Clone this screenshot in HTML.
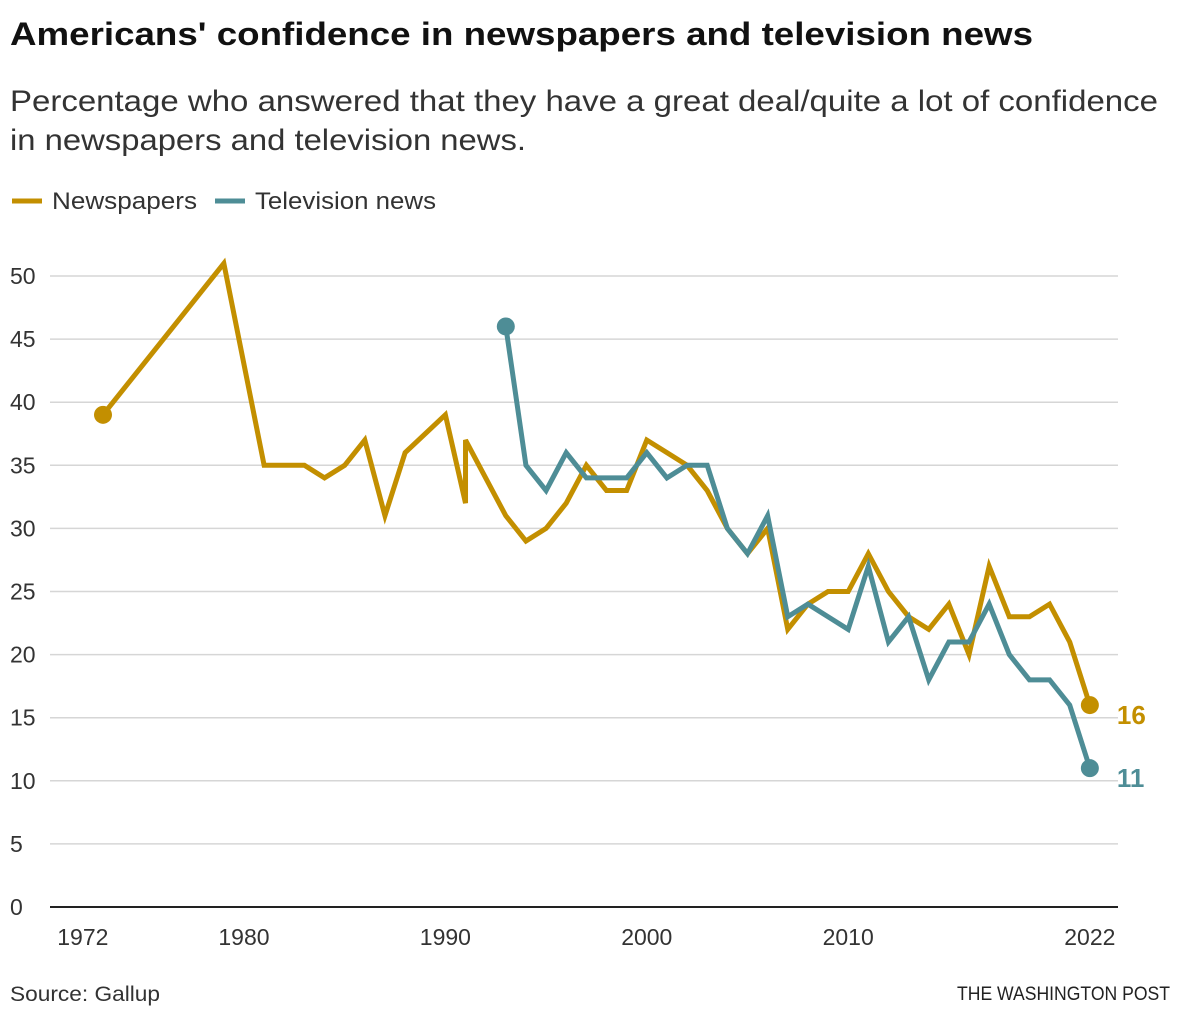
<!DOCTYPE html>
<html><head><meta charset="utf-8">
<style>
body{margin:0;background:#fff;width:1180px;height:1020px;overflow:hidden;font-family:"Liberation Sans",sans-serif;}
</style></head>
<body>
<svg id="chart" width="1180" height="1020" xmlns="http://www.w3.org/2000/svg" font-family="Liberation Sans, sans-serif">
<text x="10" y="45" font-size="32" font-weight="bold" fill="#111" textLength="1023" lengthAdjust="spacingAndGlyphs">Americans' confidence in newspapers and television news</text>
<text x="10" y="111" font-size="30" fill="#333" textLength="1148" lengthAdjust="spacingAndGlyphs">Percentage who answered that they have a great deal/quite a lot of confidence</text>
<text x="10" y="150" font-size="30" fill="#333" textLength="516" lengthAdjust="spacingAndGlyphs">in newspapers and television news.</text>
<g>
<line x1="12" y1="201" x2="42" y2="201" stroke="#c38f00" stroke-width="5"/>
<text x="52" y="209" font-size="24" fill="#333" textLength="145" lengthAdjust="spacingAndGlyphs">Newspapers</text>
<line x1="215" y1="201" x2="245" y2="201" stroke="#4e8d96" stroke-width="5"/>
<text x="255" y="209" font-size="24" fill="#333" textLength="181" lengthAdjust="spacingAndGlyphs">Television news</text>
</g>
<g id="grid"></g><g id="marks"></g>
<text x="10" y="1001" font-size="21" fill="#333" textLength="150" lengthAdjust="spacingAndGlyphs">Source: Gallup</text>
<text x="1170" y="1000" font-size="19" fill="#222" text-anchor="end" textLength="213" lengthAdjust="spacingAndGlyphs">THE WASHINGTON POST</text>
</svg>
<script>
const yTicks=[0,5,10,15,20,25,30,35,40,45,50];
const xTickLabels=[1972,1980,1990,2000,2010,2022];
const newsYears=[1973,1979,1981,1983,1984,1985,1986,1987,1988,1990,1991,1991,1993,1994,1995,1996,1997,1998,1999,2000,2001,2002,2003,2004,2005,2006,2007,2008,2009,2010,2011,2012,2013,2014,2015,2016,2017,2018,2019,2020,2021,2022];
const newsValues=[39,51,35,35,34,35,37,31,36,39,32,37,31,29,30,32,35,33,33,37,36,35,33,30,28,30,22,24,25,25,28,25,23,22,24,20,27,23,23,24,21,16];
const tvYears=[1993,1994,1995,1996,1997,1998,1999,2000,2001,2002,2003,2004,2005,2006,2007,2008,2009,2010,2011,2012,2013,2014,2015,2016,2017,2018,2019,2020,2021,2022];
const tvValues=[46,35,33,36,34,34,34,36,34,35,35,30,28,31,23,24,23,22,27,21,23,18,21,21,24,20,18,18,16,11];
const NS='http://www.w3.org/2000/svg';
const x=yr=>103+(yr-1973)*20.14;
const y=v=>907-v*12.62;
function mk(tag,attrs,parent){const e=document.createElementNS(NS,tag);for(const k in attrs)e.setAttribute(k,attrs[k]);parent.appendChild(e);return e;}
const grid=document.getElementById('grid'),marks=document.getElementById('marks');
yTicks.forEach(t=>{
 const l=mk('line',{x1:50,x2:1118,y1:y(t),y2:y(t),stroke:t===0?'#222':'#d6d6d6','stroke-width':t===0?2:1.5},grid);
 
 
 const tx=mk('text',{x:10,y:y(t)+8,'font-size':23,fill:'#333'},grid);tx.textContent=t;
 
 
});
xTickLabels.forEach(t=>{
 const tx=mk('text',{x:x(t),y:945,'font-size':23,fill:'#333','text-anchor':'middle'},grid);tx.textContent=t;
 
 
});
function series(years,vals,color,name){
 const p=mk('polyline',{points:years.map((yr,i)=>x(yr)+','+y(vals[i])).join(' '),fill:'none',stroke:color,'stroke-width':5,'stroke-linejoin':'miter'},marks);
 
 
 const n=years.length-1;
 [0,n].forEach(i=>{const c=mk('circle',{cx:x(years[i]),cy:y(vals[i]),r:9,fill:color},marks);
  
  });
 const t=mk('text',{x:x(years[n])+27,y:y(vals[n])+19,'font-size':26,'font-weight':'bold',fill:color},marks);t.textContent=vals[n];
 
 
}
series(newsYears,newsValues,'#c38f00','newspapers');
series(tvYears,tvValues,'#4e8d96','television-news');
</script>
</body></html>
